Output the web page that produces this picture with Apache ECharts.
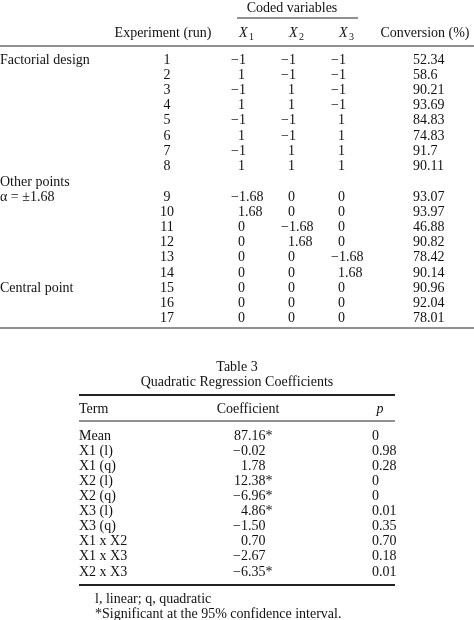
<!DOCTYPE html>
<html>
<head>
<meta charset="utf-8">
<script src="https://cdn.jsdelivr.net/npm/echarts@6/dist/echarts.min.js"></script>
<style>html,body{margin:0;padding:0;background:#fff}#container{width:474px;height:620px}</style>
</head>
<body>
<div id="container"></div>
<script>
var groups = ["Factorial design", "Other points", "α = ±1.68", "Central point"];
var runs = ["1","2","3","4","5","6","7","8","9","10","11","12","13","14","15","16","17"];
var x1 = ["−1","1","−1","1","−1","1","−1","1","−1.68","1.68","0","0","0","0","0","0","0"];
var x2 = ["−1","−1","1","1","−1","−1","1","1","0","0","−1.68","1.68","0","0","0","0","0"];
var x3 = ["−1","−1","−1","−1","1","1","1","1","0","0","0","0","−1.68","1.68","0","0","0"];
var conversion = ["52.34","58.6","90.21","93.69","84.83","74.83","91.7","90.11","93.07","93.97","46.88","90.82","78.42","90.14","90.96","92.04","78.01"];

var terms = ["Mean","X1 (l)","X1 (q)","X2 (l)","X2 (q)","X3 (l)","X3 (q)","X1 x X2","X1 x X3","X2 x X3"];
var coefficients = ["87.16*","−0.02","1.78","12.38*","−6.96*","4.86*","−1.50","0.70","−2.67","−6.35*"];
var pValues = ["0","0.98","0.28","0","0","0.01","0.35","0.70","0.18","0.01"];

var font = '"Liberation Serif", "DejaVu Serif", serif';
var els = [];
function txt(s, x, y, align, style) {
  els.push({ type: "text", x: x, y: y, style: Object.assign({
    text: s, font: "14px " + font, fill: "#111", align: align || "left", verticalAlign: "middle"
  }, style || {}) });
}
function line(x1_, y, x2_, w) {
  els.push({ type: "line", shape: { x1: x1_, y1: y, x2: x2_, y2: y }, style: { stroke: "#222", lineWidth: w || 1 } });
}
// coded value: minus hangs to the left of the digit column
function coded(s, x, y) {
  if (s.charAt(0) == "−") txt(s, x - 7, y, "left");
  else txt(s, x, y, "left");
}

// Table 2 header
txt("Coded variables", 292, 8, "center");
line(237, 18, 358, 1);
txt("Experiment (run)", 163, 33, "center");
var xs = [["X", 239, "1"], ["X", 289, "2"], ["X", 339, "3"]];
xs.forEach(function (c) {
  txt(c[0], c[1], 33, "left", { font: "italic 14px " + font });
  txt(c[2], c[1] + 10, 37, "left", { font: "10px " + font });
});
txt("Conversion (%)", 425, 33, "center");
line(0, 46, 474, 1);

function rowY(i) {
  if (i < 8) return 60 + i * 15.2;
  return 197 + (i - 8) * 15.2;
}
txt(groups[0], 0, 60);
txt(groups[1], 0, 182);
txt(groups[2], 0, 197);
txt(groups[3], 0, rowY(14));
for (var i = 0; i < runs.length; i++) {
  var y = rowY(i);
  txt(runs[i], 167, y, "center");
  coded(x1[i], 238, y);
  coded(x2[i], 288, y);
  coded(x3[i], 338, y);
  txt(conversion[i], 413, y, "left");
}
line(0, 328, 474, 1);

// Table 3
txt("Table 3", 237, 367, "center");
txt("Quadratic Regression Coefficients", 237, 382, "center");
line(79, 395, 395, 2);
txt("Term", 79, 409);
txt("Coefficient", 248, 409, "center");
txt("p", 380, 409, "center", { font: "italic 14px " + font });
line(79, 421, 395, 1);
for (var j = 0; j < terms.length; j++) {
  var yy = 436 + j * 15.1;
  txt(terms[j], 79, yy);
  var parts = coefficients[j].split(".");
  txt(parts[0], 248, yy, "right");
  txt("." + parts[1], 248, yy, "left");
  txt(pValues[j], 372, yy, "left");
}
line(79, 585, 395, 2);
txt("l, linear; q, quadratic", 95, 599);
txt("*Significant at the 95% confidence interval.", 95, 614);

var myChart = echarts.init(document.getElementById("container"));
myChart.setOption({ animation: false, graphic: { elements: els } });
</script>
</body>
</html>
